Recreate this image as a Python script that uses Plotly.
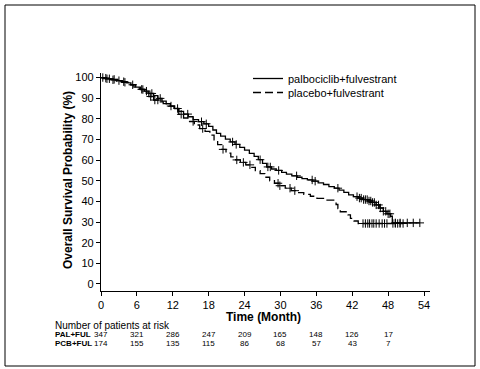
import numpy as np
import plotly.graph_objects as go

# ---- data ----
pal_time = [0, 0.5, 1.2, 2.0, 2.8, 3.5, 4.3, 5.0, 5.8, 6.6, 7.3, 8.0, 8.8, 9.5, 10.2, 10.9,
            11.6, 12.3, 13.0, 13.8, 14.6, 15.4, 16.3, 17.2, 18.0, 18.7, 19.3, 20.0, 20.8,
            21.6, 22.4, 23.2, 24.0, 24.8, 25.6, 26.3, 27.0, 27.7, 28.5, 29.3, 30.2, 31.0,
            31.9, 32.8, 33.6, 34.5, 35.4, 36.3, 37.2, 38.1, 39.0, 39.8, 40.6, 41.4, 42.2,
            43.0, 43.8, 44.6, 45.4, 46.0, 46.6, 47.2, 47.8, 48.4, 48.7, 53.3]
pal_surv = [100, 99.7, 99.4, 99.1, 98.5, 98.0, 97.4, 96.5, 95.4, 94.2, 93.4, 92.3, 91.2, 89.9,
            88.6, 87.3, 86.2, 85.0, 83.6, 82.3, 81.0, 79.6, 78.6, 77.6, 76.3, 74.6, 73.0, 71.6,
            70.2, 68.8, 67.6, 66.2, 64.8, 63.3, 61.8, 60.2, 58.4, 56.7, 55.7, 55.0, 54.1, 53.2,
            52.4, 51.7, 51.0, 50.4, 49.8, 49.0, 48.2, 47.2, 46.4, 45.5, 44.4, 43.2, 42.3, 41.6,
            40.9, 40.2, 39.5, 38.3, 36.8, 35.2, 34.0, 32.8, 29.6, 29.6]
pal_censor = [0.3, 0.8, 1.4, 2.2, 3.0, 3.8, 5.3, 7.0, 7.6, 8.5, 9.9, 12.8, 14.5, 16.8, 17.6,
              22.0, 22.6, 26.6, 27.9, 28.3, 29.7, 32.7, 35.3, 35.8, 39.6, 42.8, 43.2, 43.5,
              43.9, 44.2, 44.5, 44.8, 45.1, 45.4, 45.7, 46.0, 46.4, 46.7, 47.2, 47.6, 48.0,
              48.3, 49.2, 50.0, 51.2, 52.2, 53.3]

pcb_time = [0, 0.8, 1.6, 2.6, 3.5, 4.5, 5.5, 6.4, 7.2, 8.0, 8.8, 9.6, 10.4, 11.3, 12.2, 13.0,
            13.8, 14.7, 15.6, 16.5, 17.4, 18.2, 18.9, 19.5, 20.2, 20.9, 21.7, 22.5, 23.3, 24.2,
            25.0, 25.8, 26.6, 27.4, 28.2, 29.0, 29.9, 30.8, 31.8, 32.8, 33.9, 35.0, 36.1, 37.2,
            39.3, 39.6, 40.0, 41.3, 41.7, 42.3, 43.0, 50.5]
pcb_surv = [100, 99.4, 98.9, 98.3, 97.7, 96.5, 95.4, 94.3, 92.5, 90.8, 89.1, 88.2, 87.4, 86.2,
            84.5, 82.2, 80.4, 78.7, 77.0, 75.3, 73.9, 72.1, 69.8, 67.5, 65.2, 63.4, 61.6, 60.1,
            58.9, 57.7, 56.5, 54.9, 53.5, 51.7, 50.0, 48.8, 47.6, 46.4, 45.2, 44.3, 43.4, 42.5,
            41.5, 40.6, 38.5, 36.5, 35.0, 33.5, 31.8, 30.5, 29.3, 29.3]
pcb_censor = [1.0, 2.0, 4.0, 6.8, 8.3, 9.0, 9.5, 11.7, 13.4, 15.4, 17.0, 20.4, 22.7, 23.8,
              24.9, 29.6, 29.9, 31.6, 32.4, 43.8, 44.2, 44.6, 44.9, 45.3, 45.6, 46.0, 46.5,
              47.0, 47.4, 47.8, 48.8, 49.2, 49.6, 50.0, 50.5]

time_ticks = [0, 6, 12, 18, 24, 30, 36, 42, 48]
pal_risk = [347, 321, 286, 247, 209, 165, 148, 126, 17]
pcb_risk = [174, 155, 135, 115, 86, 68, 57, 43, 7]

FONT = "Liberation Sans, Arial, sans-serif"


def step_value(times, surv, t):
    idx = np.searchsorted(np.array(times), t, side="right") - 1
    return surv[max(idx, 0)]


fig = go.Figure()
fig.add_trace(go.Scatter(x=pal_time, y=pal_surv, mode="lines", line_shape="hv",
                         line=dict(color="black", width=1.3),
                         name="palbociclib+fulvestrant", legend="legend"))
fig.add_trace(go.Scatter(x=pcb_time, y=pcb_surv, mode="lines", line_shape="hv",
                         line=dict(color="black", width=1.3, dash="8px,4px"),
                         name="placebo+fulvestrant", legend="legend2"))
fig.add_trace(go.Scatter(x=pal_censor, y=[step_value(pal_time, pal_surv, t) for t in pal_censor],
                         mode="markers", showlegend=False,
                         marker=dict(symbol="cross-thin", size=6, color="black",
                                     line=dict(color="black", width=1))))
fig.add_trace(go.Scatter(x=pcb_censor, y=[step_value(pcb_time, pcb_surv, t) for t in pcb_censor],
                         mode="markers", showlegend=False,
                         marker=dict(symbol="cross-thin", size=6, color="black",
                                     line=dict(color="black", width=1))))

L, R, T, B = 101, 50, 73, 78
W, H = 480, 369
pw, ph = W - L - R, H - T - B


def px_x(px):
    return (px - L) / pw


def px_y(py):
    return (H - B - py) / ph


def ann(text, x, y, size, xref="paper", xanchor="center", angle=0):
    return dict(text=text, x=x, y=y, xref=xref, yref="paper", showarrow=False,
                xanchor=xanchor, yanchor="middle", textangle=angle,
                font=dict(size=size, color="black", family=FONT))


annotations = [
    ann("<b>Time (Month)</b>", px_x(263), px_y(317), 12),
    ann("<b>Overall Survival Probability (%)</b>", px_x(68), px_y(180), 12, angle=-90),
    ann("Number of patients at risk", px_x(53), px_y(325), 10, xanchor="left"),
    ann("<b>PAL+FUL</b>", px_x(53), px_y(334), 8, xanchor="left"),
    ann("<b>PCB+FUL</b>", px_x(53), px_y(343), 8, xanchor="left"),
]
for t, a, b in zip(time_ticks, pal_risk, pcb_risk):
    annotations.append(ann(str(a), t, px_y(334), 8, xref="x"))
    annotations.append(ann(str(b), t, px_y(343), 8, xref="x"))

leg_common = dict(xanchor="left", yanchor="top", bgcolor="rgba(0,0,0,0)",
                  font=dict(size=11, color="black", family=FONT), itemwidth=30)

fig.update_layout(
    width=W, height=H,
    margin=dict(l=L, r=R, t=T, b=B, pad=0),
    paper_bgcolor="white", plot_bgcolor="white",
    font=dict(family=FONT, size=11, color="black"),
    showlegend=True,
    legend=dict(x=px_x(248), y=px_y(64), **leg_common),
    legend2=dict(x=px_x(248), y=px_y(78), **leg_common),
    xaxis=dict(range=[0, 55], tickvals=list(range(0, 55, 6)), showline=True, linecolor="black",
               linewidth=1.3, ticks="outside", ticklen=4, tickcolor="black", showgrid=False,
               zeroline=False, tickfont=dict(size=11)),
    yaxis=dict(range=[-3.4, 102.2], tickvals=list(range(0, 101, 10)), showline=True,
               linecolor="black", linewidth=1.3, ticks="outside", ticklen=4, tickcolor="black",
               showgrid=False, zeroline=False, tickfont=dict(size=11)),
    annotations=annotations,
    shapes=[dict(type="rect", xref="paper", yref="paper", x0=px_x(5), x1=px_x(475),
                 y0=px_y(366), y1=px_y(5), line=dict(color="black", width=1))],
)
fig.write_html("out.html")
